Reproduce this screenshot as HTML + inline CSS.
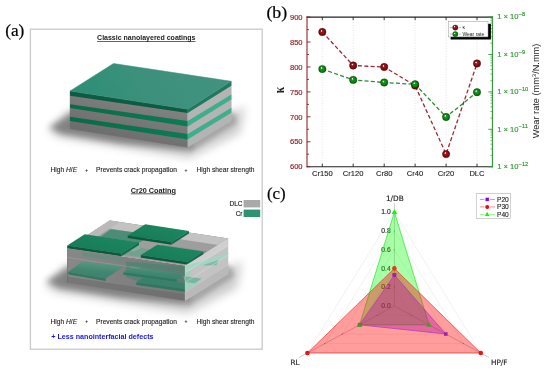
<!DOCTYPE html>
<html><head><meta charset="utf-8"><title>Figure</title>
<style>html,body{margin:0;padding:0;background:#fff;}body{width:550px;height:371px;overflow:hidden;}svg{display:block;}</style>
</head><body>
<svg width="550" height="371" viewBox="0 0 550 371">
<defs>
<radialGradient id="rb" cx="0.5" cy="0.5" r="0.5" fx="0.36" fy="0.32">
<stop offset="0" stop-color="#ffffff"/><stop offset="0.13" stop-color="#f0d0d0"/><stop offset="0.30" stop-color="#a01a1e"/><stop offset="0.75" stop-color="#860a0e"/><stop offset="1" stop-color="#5c0407"/></radialGradient>
<radialGradient id="gb" cx="0.5" cy="0.5" r="0.5" fx="0.36" fy="0.32">
<stop offset="0" stop-color="#ffffff"/><stop offset="0.13" stop-color="#d0f0d0"/><stop offset="0.30" stop-color="#1a9a1e"/><stop offset="0.75" stop-color="#0a800e"/><stop offset="1" stop-color="#045407"/></radialGradient>
<linearGradient id="topg" x1="0" y1="0.6" x2="1" y2="0.4">
<stop offset="0" stop-color="#2c8e75"/><stop offset="0.5" stop-color="#3d917c"/><stop offset="1" stop-color="#41937f"/></linearGradient>
<linearGradient id="lgrey" x1="0" y1="0" x2="1" y2="0">
<stop offset="0" stop-color="#6e6e6e"/><stop offset="1" stop-color="#7e7e7e"/></linearGradient>
<linearGradient id="lgreen" x1="0" y1="0" x2="1" y2="0">
<stop offset="0" stop-color="#0a6a48"/><stop offset="1" stop-color="#0b7c54"/></linearGradient>
<linearGradient id="vshade" x1="0" y1="0" x2="0" y2="1">
<stop offset="0" stop-color="#fff" stop-opacity="0.10"/><stop offset="1" stop-color="#000" stop-opacity="0.10"/></linearGradient>
<linearGradient id="l2grey" x1="0" y1="0" x2="1" y2="0">
<stop offset="0" stop-color="#888888"/><stop offset="1" stop-color="#787878"/></linearGradient>
<linearGradient id="lltop" x1="0" y1="1" x2="0.35" y2="0">
<stop offset="0" stop-color="#347f68"/><stop offset="0.55" stop-color="#3d8870"/><stop offset="1" stop-color="#5a9883"/></linearGradient>
<linearGradient id="tileg" x1="0" y1="1" x2="1" y2="0">
<stop offset="0" stop-color="#137954"/><stop offset="1" stop-color="#1f8a64"/></linearGradient>
<filter id="blur25" x="-50%" y="-50%" width="200%" height="200%"><feGaussianBlur stdDeviation="2.2"/></filter>
<filter id="blur3" x="-50%" y="-50%" width="200%" height="200%"><feGaussianBlur stdDeviation="3"/></filter>
<filter id="blur5" x="-50%" y="-50%" width="200%" height="200%"><feGaussianBlur stdDeviation="5"/></filter>
<filter id="blur1" x="-20%" y="-20%" width="140%" height="140%"><feGaussianBlur stdDeviation="0.6"/></filter>

</defs>
<rect x="30.4" y="29.2" width="231.8" height="320.0" fill="#fff" stroke="#c8c8c8" stroke-width="1.25"/>
<text transform="translate(5.2,36.2) scale(1.04,1)" font-family="'Liberation Serif',serif" font-size="16.6" stroke="#000" stroke-width="0.2">(a)</text>
<text x="146.3" y="40.2" text-anchor="middle" font-family="'Liberation Sans',sans-serif" font-weight="bold" font-size="7" text-decoration="underline" fill="#222">Classic nanolayered coatings</text>
<text x="153.3" y="192.5" text-anchor="middle" font-family="'Liberation Sans',sans-serif" font-weight="bold" font-size="7.25" text-decoration="underline" fill="#222">Cr20 Coating</text>
<text x="50.5" y="172.2" font-family="'Liberation Sans',sans-serif" font-size="6.65" fill="#1e1e1e" stroke="#1e1e1e" stroke-width="0.12">High <tspan font-style="italic">H</tspan>/<tspan font-style="italic">E</tspan></text>
<text x="86.8" y="171.6" text-anchor="middle" font-family="'Liberation Sans',sans-serif" font-weight="bold" font-size="5" fill="#1e1e1e">+</text>
<text x="96" y="172.2" font-family="'Liberation Sans',sans-serif" font-size="6.65" fill="#1e1e1e" stroke="#1e1e1e" stroke-width="0.12">Prevents crack propagation</text>
<text x="186" y="171.6" text-anchor="middle" font-family="'Liberation Sans',sans-serif" font-weight="bold" font-size="5" fill="#1e1e1e">+</text>
<text x="196.5" y="172.2" font-family="'Liberation Sans',sans-serif" font-size="6.65" fill="#1e1e1e" stroke="#1e1e1e" stroke-width="0.12">High shear strength</text>
<text x="50.5" y="323.9" font-family="'Liberation Sans',sans-serif" font-size="6.65" fill="#1e1e1e" stroke="#1e1e1e" stroke-width="0.12">High <tspan font-style="italic">H</tspan>/<tspan font-style="italic">E</tspan></text>
<text x="86.8" y="323.3" text-anchor="middle" font-family="'Liberation Sans',sans-serif" font-weight="bold" font-size="5" fill="#1e1e1e">+</text>
<text x="96" y="323.9" font-family="'Liberation Sans',sans-serif" font-size="6.65" fill="#1e1e1e" stroke="#1e1e1e" stroke-width="0.12">Prevents crack propagation</text>
<text x="186" y="323.3" text-anchor="middle" font-family="'Liberation Sans',sans-serif" font-weight="bold" font-size="5" fill="#1e1e1e">+</text>
<text x="196.5" y="323.9" font-family="'Liberation Sans',sans-serif" font-size="6.65" fill="#1e1e1e" stroke="#1e1e1e" stroke-width="0.12">High shear strength</text>
<text x="51.3" y="339.0" font-family="'Liberation Sans',sans-serif" font-weight="bold" font-size="7.15" fill="#1616f4">+ Less nanointerfacial defects</text>
<rect x="243.6" y="200" width="16.6" height="7.4" fill="#a9a9a9"/>
<rect x="243.6" y="209.6" width="16.6" height="7.4" fill="#2f9274"/>
<text x="242.5" y="206.1" text-anchor="end" font-family="'Liberation Sans',sans-serif" font-size="6.5" fill="#222" stroke="#222" stroke-width="0.15">DLC</text>
<text x="242.5" y="215.7" text-anchor="end" font-family="'Liberation Sans',sans-serif" font-size="6.5" fill="#222" stroke="#222" stroke-width="0.15">Cr</text>
<g filter="url(#blur5)" opacity="0.20">
<polygon points="48.0,130.0 70.0,110.0 187.0,130.0 238.0,110.0 245.0,106.0 240.0,133.0 190.0,158.0 58.0,137.0" fill="#000" />
</g>
<g filter="url(#blur3)" opacity="0.36">
<polygon points="49.0,127.5 72.0,112.0 190.0,135.0 190.0,150.5 120.0,143.5 62.0,134.0" fill="#000" />
</g>
<g filter="url(#blur25)" opacity="0.18">
<polygon points="186.0,135.0 230.0,110.0 236.5,116.0 236.5,123.5 190.0,152.5" fill="#000" />
</g>
<polygon points="70.0,91.0 187.7,109.2 187.7,147.3 70.0,128.9" fill="url(#lgrey)" stroke="#777" stroke-width="0.4"/>
<polygon points="187.7,109.2 231.3,81.3 231.3,121.1 187.7,147.3" fill="#b4b4b4" stroke="#b4b4b4" stroke-width="0.4"/>
<polygon points="70.0,91.0 187.7,109.2 187.7,147.3 70.0,128.9" fill="url(#vshade)" />
<polygon points="70.0,91.0 187.7,109.2 187.7,113.1 70.0,95.8" fill="#0c5c43" />
<polygon points="187.7,109.2 231.3,81.3 231.3,85.8 187.7,113.1" fill="#1d7a5f" />
<polygon points="70.0,104.3 187.7,121.0 187.7,126.4 70.0,108.1" fill="url(#lgreen)" />
<polygon points="187.7,121.0 231.3,94.6 231.3,99.4 187.7,126.4" fill="#3fae8c" />
<polygon points="70.0,116.8 187.7,134.0 187.7,139.4 70.0,120.9" fill="url(#lgreen)" />
<polygon points="187.7,134.0 231.3,107.8 231.3,112.7 187.7,139.4" fill="#3fae8c" />
<polygon points="70.0,91.0 113.5,63.5 231.3,81.3 187.7,109.2" fill="url(#topg)" stroke="#368f79" stroke-width="0.5"/>
<g filter="url(#blur5)" opacity="0.20">
<polygon points="45.0,285.0 67.0,265.0 185.0,285.0 235.0,265.0 242.0,260.0 237.0,288.0 188.0,313.0 55.0,292.0" fill="#000" />
</g>
<g filter="url(#blur3)" opacity="0.36">
<polygon points="46.0,281.5 69.0,266.0 187.0,289.0 187.5,304.5 118.0,297.5 59.0,288.0" fill="#000" />
</g>
<g filter="url(#blur25)" opacity="0.18">
<polygon points="184.0,289.0 227.0,263.0 233.5,269.0 233.5,277.0 188.0,306.5" fill="#000" />
</g>
<polygon points="67.2,248.2 185.2,265.6 185.2,300.8 67.2,282.8" fill="url(#l2grey)" />
<polygon points="185.2,265.6 228.2,238.5 228.2,274.1 185.2,300.8" fill="#c3c3c3" />
<polygon points="67.2,248.2 109.8,220.4 228.2,238.5 185.2,265.6" fill="#a2a2a2" />
<line x1="67.5" y1="248.9" x2="67.5" y2="282.8" stroke="#555" stroke-width="0.7" opacity="0.55"/>
<polygon points="67.2,248.2 109.8,220.4 228.2,238.5 185.2,265.6" fill="#9e9e9e" />
<polygon points="99.6,227.1 109.8,220.4 228.2,238.5 217.9,245.0" fill="#c3c3c3" opacity="1"/>
<polygon points="84.7,236.8 109.8,220.4 119.9,221.9 94.7,238.3" fill="#b9b9b9" opacity="1"/>
<polygon points="157.5,248.0 202.4,254.8 207.6,251.5 162.6,244.8" fill="#84918b" opacity="1"/>
<polygon points="100.4,236.8 110.8,229.2 150.0,234.5 140.0,242.5" fill="#4d8c77" />
<polygon points="118.0,251.5 139.0,247.5 152.0,250.0 141.0,257.0 124.0,255.0" fill="#6f9f8d" opacity="0.85"/>
<polygon points="137.5,244.2 141.0,248.6 134.0,251.5 127.0,250.5" fill="#7fb3a0" opacity="0.9"/>
<polygon points="82.6,252.6 122.3,258.2 122.3,261.6 82.6,256.0" fill="#5f8f7d" opacity="0.75"/>
<polygon points="135.3,261.3 166.0,264.0 166.0,267.0 135.3,264.2" fill="#5f8f7d" opacity="0.55"/>
<polygon points="126.0,261.5 185.2,266.2 185.2,291.2 150.0,285.8 126.0,277.0" fill="#2f8066" opacity="0.42"/>
<g opacity="0.92">
<polygon points="68.3,271.8 82.6,261.4 125.0,265.6 105.8,278.4" fill="url(#lltop)" />
<polygon points="68.3,271.8 105.8,278.4 105.8,281.0 68.3,274.4" fill="#2a7860" />
</g>
<g opacity="0.92">
<polygon points="123.3,272.2 131.2,265.9 182.8,274.2 176.7,279.4" fill="url(#lltop)" />
<polygon points="123.3,272.2 176.7,279.4 176.7,282.0 123.3,274.8" fill="#2a7860" />
</g>
<g opacity="0.92">
<polygon points="136.3,282.3 143.4,277.3 185.2,283.3 185.2,289.0" fill="#37826a" />
<polygon points="136.3,282.3 185.2,289.0 185.2,291.8 136.3,285.1" fill="#2a765e" />
</g>
<polygon points="67.2,276.6 185.2,294.5 185.2,300.8 67.2,282.8" fill="#666" opacity="0.5"/>
<line x1="67.2" y1="257.5" x2="140.4" y2="268.4" stroke="#b8b8b8" stroke-width="0.6" opacity="0.5"/>
<polygon points="185.2,292.4 228.2,265.6 228.2,274.1 185.2,300.8" fill="#b6b6b6" opacity="0.8"/>
<polygon points="185.2,265.6 228.2,238.5 228.2,245.6 185.2,272.6" fill="#d2d2d2" opacity="0.8"/>
<polygon points="185.2,266.2 228.2,252.9 228.2,256.8 185.2,270.6" fill="#a0d6c2" opacity="0.95"/>
<polygon points="203.0,264.9 218.5,259.9 216.5,265.2 205.5,265.6" fill="#7dbba5" opacity="0.95"/>
<polygon points="185.2,270.9 190.5,270.1 190.5,278.6 201.8,278.6 194.8,285.5 187.9,289.6 185.2,291.2" fill="#9fcfbd" opacity="0.95"/>
<polygon points="183.2,276.3 201.8,278.6 194.8,283.2 185.2,282.0" fill="#74b39c" opacity="0.9"/>
<line x1="185.2" y1="272.6" x2="228.2" y2="245.6" stroke="#e6e6e6" stroke-width="0.6" opacity="0.7"/>
<line x1="185.2" y1="282.1" x2="228.2" y2="255.2" stroke="#e6e6e6" stroke-width="0.6" opacity="0.7"/>
<line x1="185.2" y1="265.6" x2="185.2" y2="300.8" stroke="#dcdcdc" stroke-width="0.5" opacity="0.6"/>
<g opacity="1.0" >
<polygon points="127.7,235.5 145.2,224.2 189.0,230.9 171.4,242.1" fill="url(#tileg)" />
<polygon points="127.7,235.5 171.4,242.1 171.4,244.7 127.7,238.1" fill="#0b5a3e" />
<polygon points="171.4,242.1 189.0,230.9 189.0,233.5 171.4,244.7" fill="#146c50" />
</g>
<g opacity="1.0" >
<polygon points="67.2,245.6 84.7,234.2 139.0,242.3 121.5,253.6" fill="url(#tileg)" />
<polygon points="67.2,245.6 121.5,253.6 121.5,256.2 67.2,248.2" fill="#0b5a3e" />
<polygon points="121.5,253.6 139.0,242.3 139.0,244.9 121.5,256.2" fill="#146c50" />
</g>
<g opacity="1.0" >
<polygon points="140.9,255.1 157.2,244.7 203.3,251.6 186.9,261.9" fill="url(#tileg)" />
<polygon points="140.9,255.1 186.9,261.9 186.9,264.5 140.9,257.7" fill="#0b5a3e" />
<polygon points="186.9,261.9 203.3,251.6 203.3,254.2 186.9,264.5" fill="#146c50" />
</g>
<text transform="translate(266.4,18.4) scale(1.09,1)" font-family="'Liberation Serif',serif" font-size="16.4" stroke="#000" stroke-width="0.2">(b)</text>
<line x1="322.3" y1="17.1" x2="322.3" y2="166.7" stroke="#d4d4d4" stroke-width="0.7" stroke-dasharray="0.9,1.7"/>
<line x1="353.2" y1="17.1" x2="353.2" y2="166.7" stroke="#d4d4d4" stroke-width="0.7" stroke-dasharray="0.9,1.7"/>
<line x1="384.2" y1="17.1" x2="384.2" y2="166.7" stroke="#d4d4d4" stroke-width="0.7" stroke-dasharray="0.9,1.7"/>
<line x1="415.1" y1="17.1" x2="415.1" y2="166.7" stroke="#d4d4d4" stroke-width="0.7" stroke-dasharray="0.9,1.7"/>
<line x1="446.1" y1="17.1" x2="446.1" y2="166.7" stroke="#d4d4d4" stroke-width="0.7" stroke-dasharray="0.9,1.7"/>
<line x1="477.0" y1="17.1" x2="477.0" y2="166.7" stroke="#d4d4d4" stroke-width="0.7" stroke-dasharray="0.9,1.7"/>
<line x1="306.5" y1="17.1" x2="492.9" y2="17.1" stroke="#222" stroke-width="1.1"/>
<line x1="306.5" y1="166.7" x2="492.9" y2="166.7" stroke="#222" stroke-width="1.1"/>
<line x1="307.0" y1="16.6" x2="307.0" y2="167.2" stroke="#8c1c20" stroke-width="1.05"/>
<line x1="492.4" y1="16.6" x2="492.4" y2="167.2" stroke="#2e9632" stroke-width="1.1"/>
<line x1="322.3" y1="17.1" x2="322.3" y2="20.1" stroke="#222" stroke-width="0.9"/>
<line x1="322.3" y1="166.7" x2="322.3" y2="163.7" stroke="#222" stroke-width="0.9"/>
<line x1="353.2" y1="17.1" x2="353.2" y2="20.1" stroke="#222" stroke-width="0.9"/>
<line x1="353.2" y1="166.7" x2="353.2" y2="163.7" stroke="#222" stroke-width="0.9"/>
<line x1="384.2" y1="17.1" x2="384.2" y2="20.1" stroke="#222" stroke-width="0.9"/>
<line x1="384.2" y1="166.7" x2="384.2" y2="163.7" stroke="#222" stroke-width="0.9"/>
<line x1="415.1" y1="17.1" x2="415.1" y2="20.1" stroke="#222" stroke-width="0.9"/>
<line x1="415.1" y1="166.7" x2="415.1" y2="163.7" stroke="#222" stroke-width="0.9"/>
<line x1="446.1" y1="17.1" x2="446.1" y2="20.1" stroke="#222" stroke-width="0.9"/>
<line x1="446.1" y1="166.7" x2="446.1" y2="163.7" stroke="#222" stroke-width="0.9"/>
<line x1="477.0" y1="17.1" x2="477.0" y2="20.1" stroke="#222" stroke-width="0.9"/>
<line x1="477.0" y1="166.7" x2="477.0" y2="163.7" stroke="#222" stroke-width="0.9"/>
<text x="322.3" y="176.3" text-anchor="middle" font-family="'Liberation Sans',sans-serif" font-size="7.6" fill="#222" stroke="#222" stroke-width="0.12">Cr150</text>
<text x="353.2" y="176.3" text-anchor="middle" font-family="'Liberation Sans',sans-serif" font-size="7.6" fill="#222" stroke="#222" stroke-width="0.12">Cr120</text>
<text x="384.2" y="176.3" text-anchor="middle" font-family="'Liberation Sans',sans-serif" font-size="7.6" fill="#222" stroke="#222" stroke-width="0.12">Cr80</text>
<text x="415.1" y="176.3" text-anchor="middle" font-family="'Liberation Sans',sans-serif" font-size="7.6" fill="#222" stroke="#222" stroke-width="0.12">Cr40</text>
<text x="446.1" y="176.3" text-anchor="middle" font-family="'Liberation Sans',sans-serif" font-size="7.6" fill="#222" stroke="#222" stroke-width="0.12">Cr20</text>
<text x="477.0" y="176.3" text-anchor="middle" font-family="'Liberation Sans',sans-serif" font-size="7.6" fill="#222" stroke="#222" stroke-width="0.12">DLC</text>
<line x1="307.0" y1="166.7" x2="310.5" y2="166.7" stroke="#8c1c20" stroke-width="0.9"/>
<text x="302.6" y="169.3" text-anchor="end" font-family="'Liberation Sans',sans-serif" font-size="7.6" fill="#8c1c20" stroke="#8c1c20" stroke-width="0.15">600</text>
<line x1="307.0" y1="154.2" x2="309.0" y2="154.2" stroke="#8c1c20" stroke-width="0.9"/>
<line x1="307.0" y1="141.8" x2="310.5" y2="141.8" stroke="#8c1c20" stroke-width="0.9"/>
<text x="302.6" y="144.4" text-anchor="end" font-family="'Liberation Sans',sans-serif" font-size="7.6" fill="#8c1c20" stroke="#8c1c20" stroke-width="0.15">650</text>
<line x1="307.0" y1="129.3" x2="309.0" y2="129.3" stroke="#8c1c20" stroke-width="0.9"/>
<line x1="307.0" y1="116.8" x2="310.5" y2="116.8" stroke="#8c1c20" stroke-width="0.9"/>
<text x="302.6" y="119.5" text-anchor="end" font-family="'Liberation Sans',sans-serif" font-size="7.6" fill="#8c1c20" stroke="#8c1c20" stroke-width="0.15">700</text>
<line x1="307.0" y1="104.4" x2="309.0" y2="104.4" stroke="#8c1c20" stroke-width="0.9"/>
<line x1="307.0" y1="91.9" x2="310.5" y2="91.9" stroke="#8c1c20" stroke-width="0.9"/>
<text x="302.6" y="94.5" text-anchor="end" font-family="'Liberation Sans',sans-serif" font-size="7.6" fill="#8c1c20" stroke="#8c1c20" stroke-width="0.15">750</text>
<line x1="307.0" y1="79.4" x2="309.0" y2="79.4" stroke="#8c1c20" stroke-width="0.9"/>
<line x1="307.0" y1="67.0" x2="310.5" y2="67.0" stroke="#8c1c20" stroke-width="0.9"/>
<text x="302.6" y="69.6" text-anchor="end" font-family="'Liberation Sans',sans-serif" font-size="7.6" fill="#8c1c20" stroke="#8c1c20" stroke-width="0.15">800</text>
<line x1="307.0" y1="54.5" x2="309.0" y2="54.5" stroke="#8c1c20" stroke-width="0.9"/>
<line x1="307.0" y1="42.0" x2="310.5" y2="42.0" stroke="#8c1c20" stroke-width="0.9"/>
<text x="302.6" y="44.7" text-anchor="end" font-family="'Liberation Sans',sans-serif" font-size="7.6" fill="#8c1c20" stroke="#8c1c20" stroke-width="0.15">850</text>
<line x1="307.0" y1="29.6" x2="309.0" y2="29.6" stroke="#8c1c20" stroke-width="0.9"/>
<line x1="307.0" y1="17.1" x2="310.5" y2="17.1" stroke="#8c1c20" stroke-width="0.9"/>
<text x="302.6" y="19.7" text-anchor="end" font-family="'Liberation Sans',sans-serif" font-size="7.6" fill="#8c1c20" stroke="#8c1c20" stroke-width="0.15">900</text>
<line x1="492.4" y1="166.7" x2="488.4" y2="166.7" stroke="#2e9632" stroke-width="0.9"/>
<line x1="492.4" y1="155.4" x2="490.4" y2="155.4" stroke="#2e9632" stroke-width="0.6"/>
<line x1="492.4" y1="148.9" x2="490.4" y2="148.9" stroke="#2e9632" stroke-width="0.6"/>
<line x1="492.4" y1="144.2" x2="490.4" y2="144.2" stroke="#2e9632" stroke-width="0.6"/>
<line x1="492.4" y1="140.6" x2="490.4" y2="140.6" stroke="#2e9632" stroke-width="0.6"/>
<line x1="492.4" y1="137.6" x2="490.4" y2="137.6" stroke="#2e9632" stroke-width="0.6"/>
<line x1="492.4" y1="135.1" x2="490.4" y2="135.1" stroke="#2e9632" stroke-width="0.6"/>
<line x1="492.4" y1="132.9" x2="490.4" y2="132.9" stroke="#2e9632" stroke-width="0.6"/>
<line x1="492.4" y1="131.0" x2="490.4" y2="131.0" stroke="#2e9632" stroke-width="0.6"/>
<text x="497.2" y="168.9" font-family="'Liberation Sans',sans-serif" font-size="7.6" fill="#2e9632" stroke="#2e9632" stroke-width="0.15">1 × 10<tspan dy="-3.1" font-size="5.8">−12</tspan></text>
<line x1="492.4" y1="129.3" x2="488.4" y2="129.3" stroke="#2e9632" stroke-width="0.9"/>
<line x1="492.4" y1="118.0" x2="490.4" y2="118.0" stroke="#2e9632" stroke-width="0.6"/>
<line x1="492.4" y1="111.5" x2="490.4" y2="111.5" stroke="#2e9632" stroke-width="0.6"/>
<line x1="492.4" y1="106.8" x2="490.4" y2="106.8" stroke="#2e9632" stroke-width="0.6"/>
<line x1="492.4" y1="103.2" x2="490.4" y2="103.2" stroke="#2e9632" stroke-width="0.6"/>
<line x1="492.4" y1="100.2" x2="490.4" y2="100.2" stroke="#2e9632" stroke-width="0.6"/>
<line x1="492.4" y1="97.7" x2="490.4" y2="97.7" stroke="#2e9632" stroke-width="0.6"/>
<line x1="492.4" y1="95.5" x2="490.4" y2="95.5" stroke="#2e9632" stroke-width="0.6"/>
<line x1="492.4" y1="93.6" x2="490.4" y2="93.6" stroke="#2e9632" stroke-width="0.6"/>
<text x="497.2" y="131.5" font-family="'Liberation Sans',sans-serif" font-size="7.6" fill="#2e9632" stroke="#2e9632" stroke-width="0.15">1 × 10<tspan dy="-3.1" font-size="5.8">−11</tspan></text>
<line x1="492.4" y1="91.9" x2="488.4" y2="91.9" stroke="#2e9632" stroke-width="0.9"/>
<line x1="492.4" y1="80.6" x2="490.4" y2="80.6" stroke="#2e9632" stroke-width="0.6"/>
<line x1="492.4" y1="74.1" x2="490.4" y2="74.1" stroke="#2e9632" stroke-width="0.6"/>
<line x1="492.4" y1="69.4" x2="490.4" y2="69.4" stroke="#2e9632" stroke-width="0.6"/>
<line x1="492.4" y1="65.8" x2="490.4" y2="65.8" stroke="#2e9632" stroke-width="0.6"/>
<line x1="492.4" y1="62.8" x2="490.4" y2="62.8" stroke="#2e9632" stroke-width="0.6"/>
<line x1="492.4" y1="60.3" x2="490.4" y2="60.3" stroke="#2e9632" stroke-width="0.6"/>
<line x1="492.4" y1="58.1" x2="490.4" y2="58.1" stroke="#2e9632" stroke-width="0.6"/>
<line x1="492.4" y1="56.2" x2="490.4" y2="56.2" stroke="#2e9632" stroke-width="0.6"/>
<text x="497.2" y="94.1" font-family="'Liberation Sans',sans-serif" font-size="7.6" fill="#2e9632" stroke="#2e9632" stroke-width="0.15">1 × 10<tspan dy="-3.1" font-size="5.8">−10</tspan></text>
<line x1="492.4" y1="54.5" x2="488.4" y2="54.5" stroke="#2e9632" stroke-width="0.9"/>
<line x1="492.4" y1="43.2" x2="490.4" y2="43.2" stroke="#2e9632" stroke-width="0.6"/>
<line x1="492.4" y1="36.7" x2="490.4" y2="36.7" stroke="#2e9632" stroke-width="0.6"/>
<line x1="492.4" y1="32.0" x2="490.4" y2="32.0" stroke="#2e9632" stroke-width="0.6"/>
<line x1="492.4" y1="28.4" x2="490.4" y2="28.4" stroke="#2e9632" stroke-width="0.6"/>
<line x1="492.4" y1="25.4" x2="490.4" y2="25.4" stroke="#2e9632" stroke-width="0.6"/>
<line x1="492.4" y1="22.9" x2="490.4" y2="22.9" stroke="#2e9632" stroke-width="0.6"/>
<line x1="492.4" y1="20.7" x2="490.4" y2="20.7" stroke="#2e9632" stroke-width="0.6"/>
<line x1="492.4" y1="18.8" x2="490.4" y2="18.8" stroke="#2e9632" stroke-width="0.6"/>
<text x="497.2" y="56.7" font-family="'Liberation Sans',sans-serif" font-size="7.6" fill="#2e9632" stroke="#2e9632" stroke-width="0.15">1 × 10<tspan dy="-3.1" font-size="5.8">−9</tspan></text>
<line x1="492.4" y1="17.1" x2="488.4" y2="17.1" stroke="#2e9632" stroke-width="0.9"/>
<text x="497.2" y="19.3" font-family="'Liberation Sans',sans-serif" font-size="7.6" fill="#2e9632" stroke="#2e9632" stroke-width="0.15">1 × 10<tspan dy="-3.1" font-size="5.8">−8</tspan></text>
<text transform="translate(284.2,90) rotate(-90) scale(0.8,1)" text-anchor="middle" font-family="'Liberation Serif',serif" font-weight="bold" font-size="14.5" fill="#222">κ</text>
<text transform="translate(538.9,91) rotate(-90)" text-anchor="middle" font-family="'Liberation Sans',sans-serif" font-size="9.2" fill="#222">Wear rate (mm<tspan dy="-2.8" font-size="6">3</tspan><tspan dy="2.8">/N.mm)</tspan></text>
<path d="M322.3,32.0 L353.2,65.5 L384.2,67.0 L415.1,85.6 L446.1,154.1 L477.0,63.5" fill="none" stroke="#9a2a30" stroke-width="1.3" stroke-dasharray="4,2.3"/>
<path d="M322.3,69.1 L353.2,79.9 L384.2,82.5 L415.1,84.3 L446.1,117.0 L477.0,92.2" fill="none" stroke="#2a8a2e" stroke-width="1.3" stroke-dasharray="4,2.3"/>
<circle cx="322.3" cy="32.0" r="3.7" fill="url(#rb)" stroke="#3a0507" stroke-width="0.4"/>
<circle cx="353.2" cy="65.5" r="3.7" fill="url(#rb)" stroke="#3a0507" stroke-width="0.4"/>
<circle cx="384.2" cy="67.0" r="3.7" fill="url(#rb)" stroke="#3a0507" stroke-width="0.4"/>
<circle cx="415.1" cy="85.6" r="3.7" fill="url(#rb)" stroke="#3a0507" stroke-width="0.4"/>
<circle cx="446.1" cy="154.1" r="3.7" fill="url(#rb)" stroke="#3a0507" stroke-width="0.4"/>
<circle cx="477.0" cy="63.5" r="3.7" fill="url(#rb)" stroke="#3a0507" stroke-width="0.4"/>
<circle cx="322.3" cy="69.1" r="3.7" fill="url(#gb)" stroke="#033a05" stroke-width="0.4"/>
<circle cx="353.2" cy="79.9" r="3.7" fill="url(#gb)" stroke="#033a05" stroke-width="0.4"/>
<circle cx="384.2" cy="82.5" r="3.7" fill="url(#gb)" stroke="#033a05" stroke-width="0.4"/>
<circle cx="415.1" cy="84.3" r="3.7" fill="url(#gb)" stroke="#033a05" stroke-width="0.4"/>
<circle cx="446.1" cy="117.0" r="3.7" fill="url(#gb)" stroke="#033a05" stroke-width="0.4"/>
<circle cx="477.0" cy="92.2" r="3.7" fill="url(#gb)" stroke="#033a05" stroke-width="0.4"/>
<rect x="450.6" y="23.8" width="40.3" height="15.7" fill="#000"/>
<rect x="448.3" y="21.3" width="39.7" height="15.6" fill="#fff" stroke="#999" stroke-width="0.5"/>
<line x1="450.5" y1="27.6" x2="460.5" y2="27.6" stroke="#9a2a30" stroke-width="0.8" stroke-dasharray="1,8"/>
<line x1="450.5" y1="34.1" x2="460.5" y2="34.1" stroke="#2a8a2e" stroke-width="0.8" stroke-dasharray="1,8"/>
<circle cx="455.3" cy="27.6" r="2.7" fill="url(#rb)" stroke="#3a0507" stroke-width="0.3"/>
<circle cx="455.3" cy="34.1" r="2.7" fill="url(#gb)" stroke="#033a05" stroke-width="0.3"/>
<text x="462.4" y="29.3" font-family="'Liberation Sans',sans-serif" font-size="5" fill="#222">κ</text>
<text x="462.4" y="35.8" font-family="'Liberation Sans',sans-serif" font-size="5" fill="#222">Wear rate</text>
<text transform="translate(267,198.8) scale(1.0,1)" font-family="'Liberation Serif',serif" font-size="16.9" stroke="#000" stroke-width="0.2">(c)</text>
<polygon points="394.4,287.2 377.0,315.4 411.7,315.4" fill="none" stroke="#e8e8e8" stroke-width="0.6"/>
<polygon points="394.4,268.4 359.6,324.8 429.0,324.8" fill="none" stroke="#e8e8e8" stroke-width="0.6"/>
<polygon points="394.4,249.7 342.2,334.2 446.2,334.2" fill="none" stroke="#e8e8e8" stroke-width="0.6"/>
<polygon points="394.4,230.9 324.8,343.6 463.5,343.6" fill="none" stroke="#e8e8e8" stroke-width="0.6"/>
<polygon points="394.4,212.1 307.4,353.0 480.8,353.0" fill="none" stroke="#e8e8e8" stroke-width="0.6"/>
<line x1="394.4" y1="306.0" x2="394.4" y2="203.2" stroke="#9a9a9a" stroke-opacity="0.75" stroke-width="0.7"/>
<circle cx="394.4" cy="287.2" r="0.6" fill="#888"/>
<circle cx="394.4" cy="268.4" r="0.6" fill="#888"/>
<circle cx="394.4" cy="249.7" r="0.6" fill="#888"/>
<circle cx="394.4" cy="230.9" r="0.6" fill="#888"/>
<circle cx="394.4" cy="212.1" r="0.6" fill="#888"/>
<line x1="394.4" y1="306.0" x2="299.1" y2="357.5" stroke="#9a9a9a" stroke-opacity="0.75" stroke-width="0.7"/>
<circle cx="377.0" cy="315.4" r="0.6" fill="#888"/>
<circle cx="359.6" cy="324.8" r="0.6" fill="#888"/>
<circle cx="342.2" cy="334.2" r="0.6" fill="#888"/>
<circle cx="324.8" cy="343.6" r="0.6" fill="#888"/>
<circle cx="307.4" cy="353.0" r="0.6" fill="#888"/>
<line x1="394.4" y1="306.0" x2="489.0" y2="357.5" stroke="#9a9a9a" stroke-opacity="0.75" stroke-width="0.7"/>
<circle cx="411.7" cy="315.4" r="0.6" fill="#888"/>
<circle cx="429.0" cy="324.8" r="0.6" fill="#888"/>
<circle cx="446.2" cy="334.2" r="0.6" fill="#888"/>
<circle cx="463.5" cy="343.6" r="0.6" fill="#888"/>
<circle cx="480.8" cy="353.0" r="0.6" fill="#888"/>
<text x="390.7" y="308.1" text-anchor="end" font-family="'Liberation Sans',sans-serif" font-size="6.8" fill="#2a2a2a" stroke="#2a2a2a" stroke-width="0.15">0.0</text>
<text x="390.7" y="289.3" text-anchor="end" font-family="'Liberation Sans',sans-serif" font-size="6.8" fill="#2a2a2a" stroke="#2a2a2a" stroke-width="0.15">0.2</text>
<text x="390.7" y="270.5" text-anchor="end" font-family="'Liberation Sans',sans-serif" font-size="6.8" fill="#2a2a2a" stroke="#2a2a2a" stroke-width="0.15">0.4</text>
<text x="390.7" y="251.8" text-anchor="end" font-family="'Liberation Sans',sans-serif" font-size="6.8" fill="#2a2a2a" stroke="#2a2a2a" stroke-width="0.15">0.6</text>
<text x="390.7" y="233.0" text-anchor="end" font-family="'Liberation Sans',sans-serif" font-size="6.8" fill="#2a2a2a" stroke="#2a2a2a" stroke-width="0.15">0.8</text>
<text x="390.7" y="214.2" text-anchor="end" font-family="'Liberation Sans',sans-serif" font-size="6.8" fill="#2a2a2a" stroke="#2a2a2a" stroke-width="0.15">1.0</text>
<polygon points="394.4,212.1 359.6,324.8 429.0,324.8" fill="#00ff00" fill-opacity="0.34" stroke="#30e830" stroke-opacity="0.75" stroke-width="1.0" stroke-linejoin="round"/>
<polygon points="394.4,268.4 307.4,353.0 480.8,353.0" fill="#ff0000" fill-opacity="0.385" stroke="#f03030" stroke-opacity="0.7" stroke-width="1.0" stroke-linejoin="round"/>
<polygon points="394.4,275.0 359.6,324.8 445.8,334.0" fill="#aa00aa" fill-opacity="0.34" stroke="#b040b0" stroke-opacity="0.8" stroke-width="1.0" stroke-linejoin="round"/>
<rect x="392.6" y="273.2" width="3.6" height="3.6" fill="#a020b0"/>
<rect x="357.8" y="323.0" width="3.6" height="3.6" fill="#a020b0"/>
<rect x="444.0" y="332.2" width="3.6" height="3.6" fill="#a020b0"/>
<circle cx="394.4" cy="268.4" r="2.3" fill="#d8401a"/>
<circle cx="307.4" cy="353.0" r="2.3" fill="#f01010"/>
<circle cx="480.8" cy="353.0" r="2.3" fill="#f01010"/>
<polygon points="394.4,209.2 391.6,214.1 397.2,214.1" fill="#00ff00" />
<polygon points="359.6,321.9 356.8,326.8 362.4,326.8" fill="#4f9a1c" />
<polygon points="429.0,321.9 426.2,326.8 431.8,326.8" fill="#4f9a1c" />
<rect x="392.6" y="273.2" width="3.6" height="3.6" fill="#a020b0"/>
<text x="394.8" y="200.6" text-anchor="middle" font-family="'DejaVu Sans',sans-serif" font-size="7.3" fill="#222" stroke="#222" stroke-width="0.15">1/DB</text>
<text x="295" y="364.8" text-anchor="middle" font-family="'DejaVu Sans',sans-serif" font-size="7.3" fill="#222" stroke="#222" stroke-width="0.15">RL</text>
<text x="499.2" y="364.8" text-anchor="middle" font-family="'DejaVu Sans',sans-serif" font-size="7.3" fill="#222" stroke="#222" stroke-width="0.15">HP/F</text>
<rect x="476.3" y="193.6" width="34.3" height="24.8" fill="#fff" stroke="#bdbdbd" stroke-width="0.7"/>
<line x1="479.9" y1="199.4" x2="484.4" y2="199.4" stroke="#8000ff" stroke-opacity="0.6" stroke-width="0.8"/>
<line x1="490.2" y1="199.4" x2="494.9" y2="199.4" stroke="#8000ff" stroke-opacity="0.6" stroke-width="0.8"/>
<rect x="485.5" y="197.70000000000002" width="3.4" height="3.4" fill="#8000ff"/>
<text x="497" y="201.70000000000002" font-family="'Liberation Sans',sans-serif" font-size="6.6" fill="#222" stroke="#222" stroke-width="0.12">P20</text>
<line x1="479.9" y1="206.9" x2="484.4" y2="206.9" stroke="#ff0000" stroke-opacity="0.6" stroke-width="0.8"/>
<line x1="490.2" y1="206.9" x2="494.9" y2="206.9" stroke="#ff0000" stroke-opacity="0.6" stroke-width="0.8"/>
<circle cx="487.2" cy="206.9" r="2" fill="#ff0000"/>
<text x="497" y="209.20000000000002" font-family="'Liberation Sans',sans-serif" font-size="6.6" fill="#222" stroke="#222" stroke-width="0.12">P30</text>
<line x1="479.9" y1="214.4" x2="484.4" y2="214.4" stroke="#00ff00" stroke-opacity="0.6" stroke-width="0.8"/>
<line x1="490.2" y1="214.4" x2="494.9" y2="214.4" stroke="#00ff00" stroke-opacity="0.6" stroke-width="0.8"/>
<polygon points="487.2,211.8 484.8,216.1 489.6,216.1" fill="#00ff00" />
<text x="497" y="216.70000000000002" font-family="'Liberation Sans',sans-serif" font-size="6.6" fill="#222" stroke="#222" stroke-width="0.12">P40</text>
</svg>
</body></html>
